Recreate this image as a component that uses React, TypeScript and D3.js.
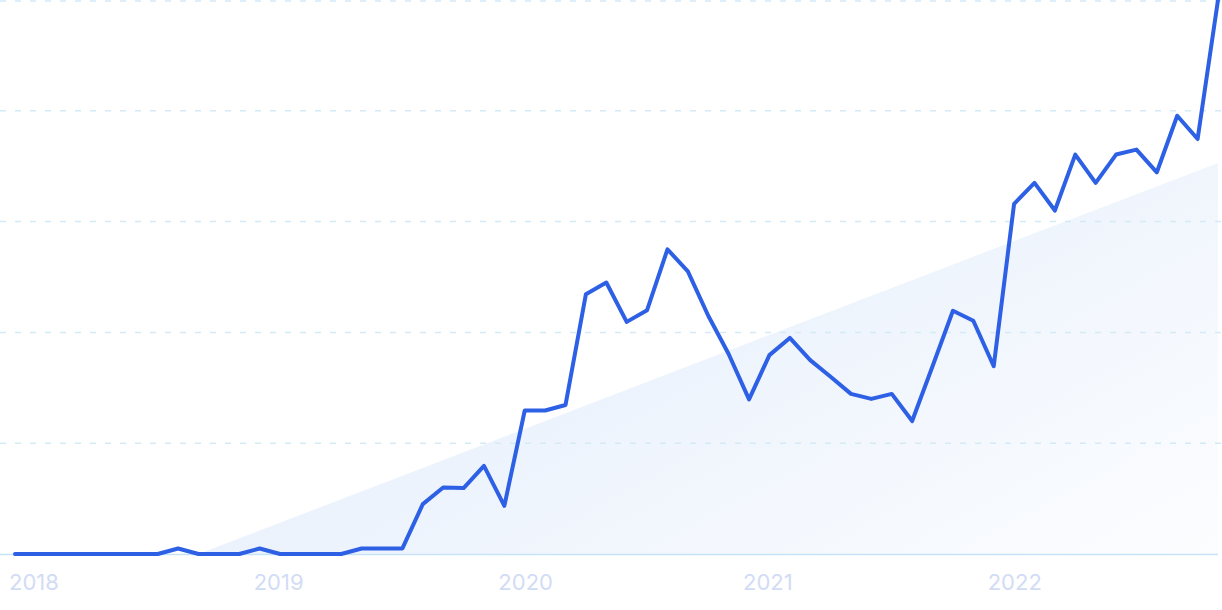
import * as d3 from "d3";
import { useEffect, useRef } from "react";

// monthly values, Jan 2018 .. Dec 2022
const values = [
  0, 0, 0, 0, 0, 0, 0, 0, 1, 0, 0, 0,
  1, 0, 0, 0, 0, 1, 1, 1, 9, 12, 11.9, 15.9,
  8.7, 25.9, 25.9, 26.9, 46.9, 49, 41.9, 44, 55, 51, 43, 36.1,
  27.9, 35.9, 39, 35, 32, 28.9, 28, 28.9, 24, 33.9, 43.9, 42.1,
  33.9, 63.2, 67, 62, 72.1, 67, 72.1, 73, 68.9, 79.1, 74.9, 100,
];
// trend wedge: [month index, value]
const trendStart = [9, 0];
const trendEnd = [59, 70.6];
const yTicks = [20, 40, 60, 80, 100];
const yearLabels = ["2018", "2019", "2020", "2021", "2022"];

const W = 1222;
const H = 610;

export default function App() {
  const svgRef = useRef<SVGSVGElement>(null);

  useEffect(() => {
    if (!svgRef.current) return;
    const svg = d3.select(svgRef.current);
    svg.selectAll("*").remove();

    const x = d3
      .scaleLinear()
      .domain([0, values.length - 1])
      .range([15, 1218]);
    const y = d3.scaleLinear().domain([0, 100]).range([554, 0]);

    const defs = svg.append("defs");
    const grad = defs
      .append("linearGradient")
      .attr("id", "wedge-grad")
      .attr("x1", 0)
      .attr("y1", 0.3)
      .attr("x2", 1)
      .attr("y2", 1);
    grad.append("stop").attr("offset", "0%").attr("stop-color", "#e3edfb");
    grad.append("stop").attr("offset", "100%").attr("stop-color", "#fcfdff");

    // Trend wedge
    const wedge = d3
      .area<number[]>()
      .x((d) => x(d[0]))
      .y0(y(0))
      .y1((d) => y(d[1]));
    svg
      .append("path")
      .attr("d", wedge([trendStart, trendEnd]) ?? "")
      .attr("fill", "url(#wedge-grad)");

    // Gridlines
    svg
      .selectAll(".grid")
      .data(yTicks)
      .enter()
      .append("line")
      .attr("x1", 0)
      .attr("x2", W)
      .attr("y1", (d) => Math.max(y(d), 1))
      .attr("y2", (d) => Math.max(y(d), 1))
      .attr("stroke", "#d4eaf7")
      .attr("stroke-width", 1.5)
      .attr("stroke-dasharray", "6 9");

    // Baseline
    svg
      .append("line")
      .attr("x1", 0)
      .attr("x2", 1218)
      .attr("y1", y(0) + 0.5)
      .attr("y2", y(0) + 0.5)
      .attr("stroke", "#c7e3fa")
      .attr("stroke-width", 1.5);

    // Year labels
    svg
      .selectAll(".year")
      .data(yearLabels)
      .enter()
      .append("text")
      .attr("x", (_, i) => x(i * 12) - 6)
      .attr("y", 590)
      .attr("font-family", "Inter, Roboto, sans-serif")
      .attr("font-size", 22)
      .attr("fill", "#d2dcf5")
      .text((d) => d);

    // Line
    const line = d3
      .line<number>()
      .x((_, i) => x(i))
      .y((d) => y(d));
    svg
      .append("path")
      .attr("d", line(values) ?? "")
      .attr("fill", "none")
      .attr("stroke", "#2d60e5")
      .attr("stroke-width", 4)
      .attr("stroke-linejoin", "round")
      .attr("stroke-linecap", "round");
  }, []);

  return (
    <svg
      ref={svgRef}
      width={W}
      height={H}
      style={{ position: "absolute", left: 0, top: 0, background: "#fff" }}
    />
  );
}
